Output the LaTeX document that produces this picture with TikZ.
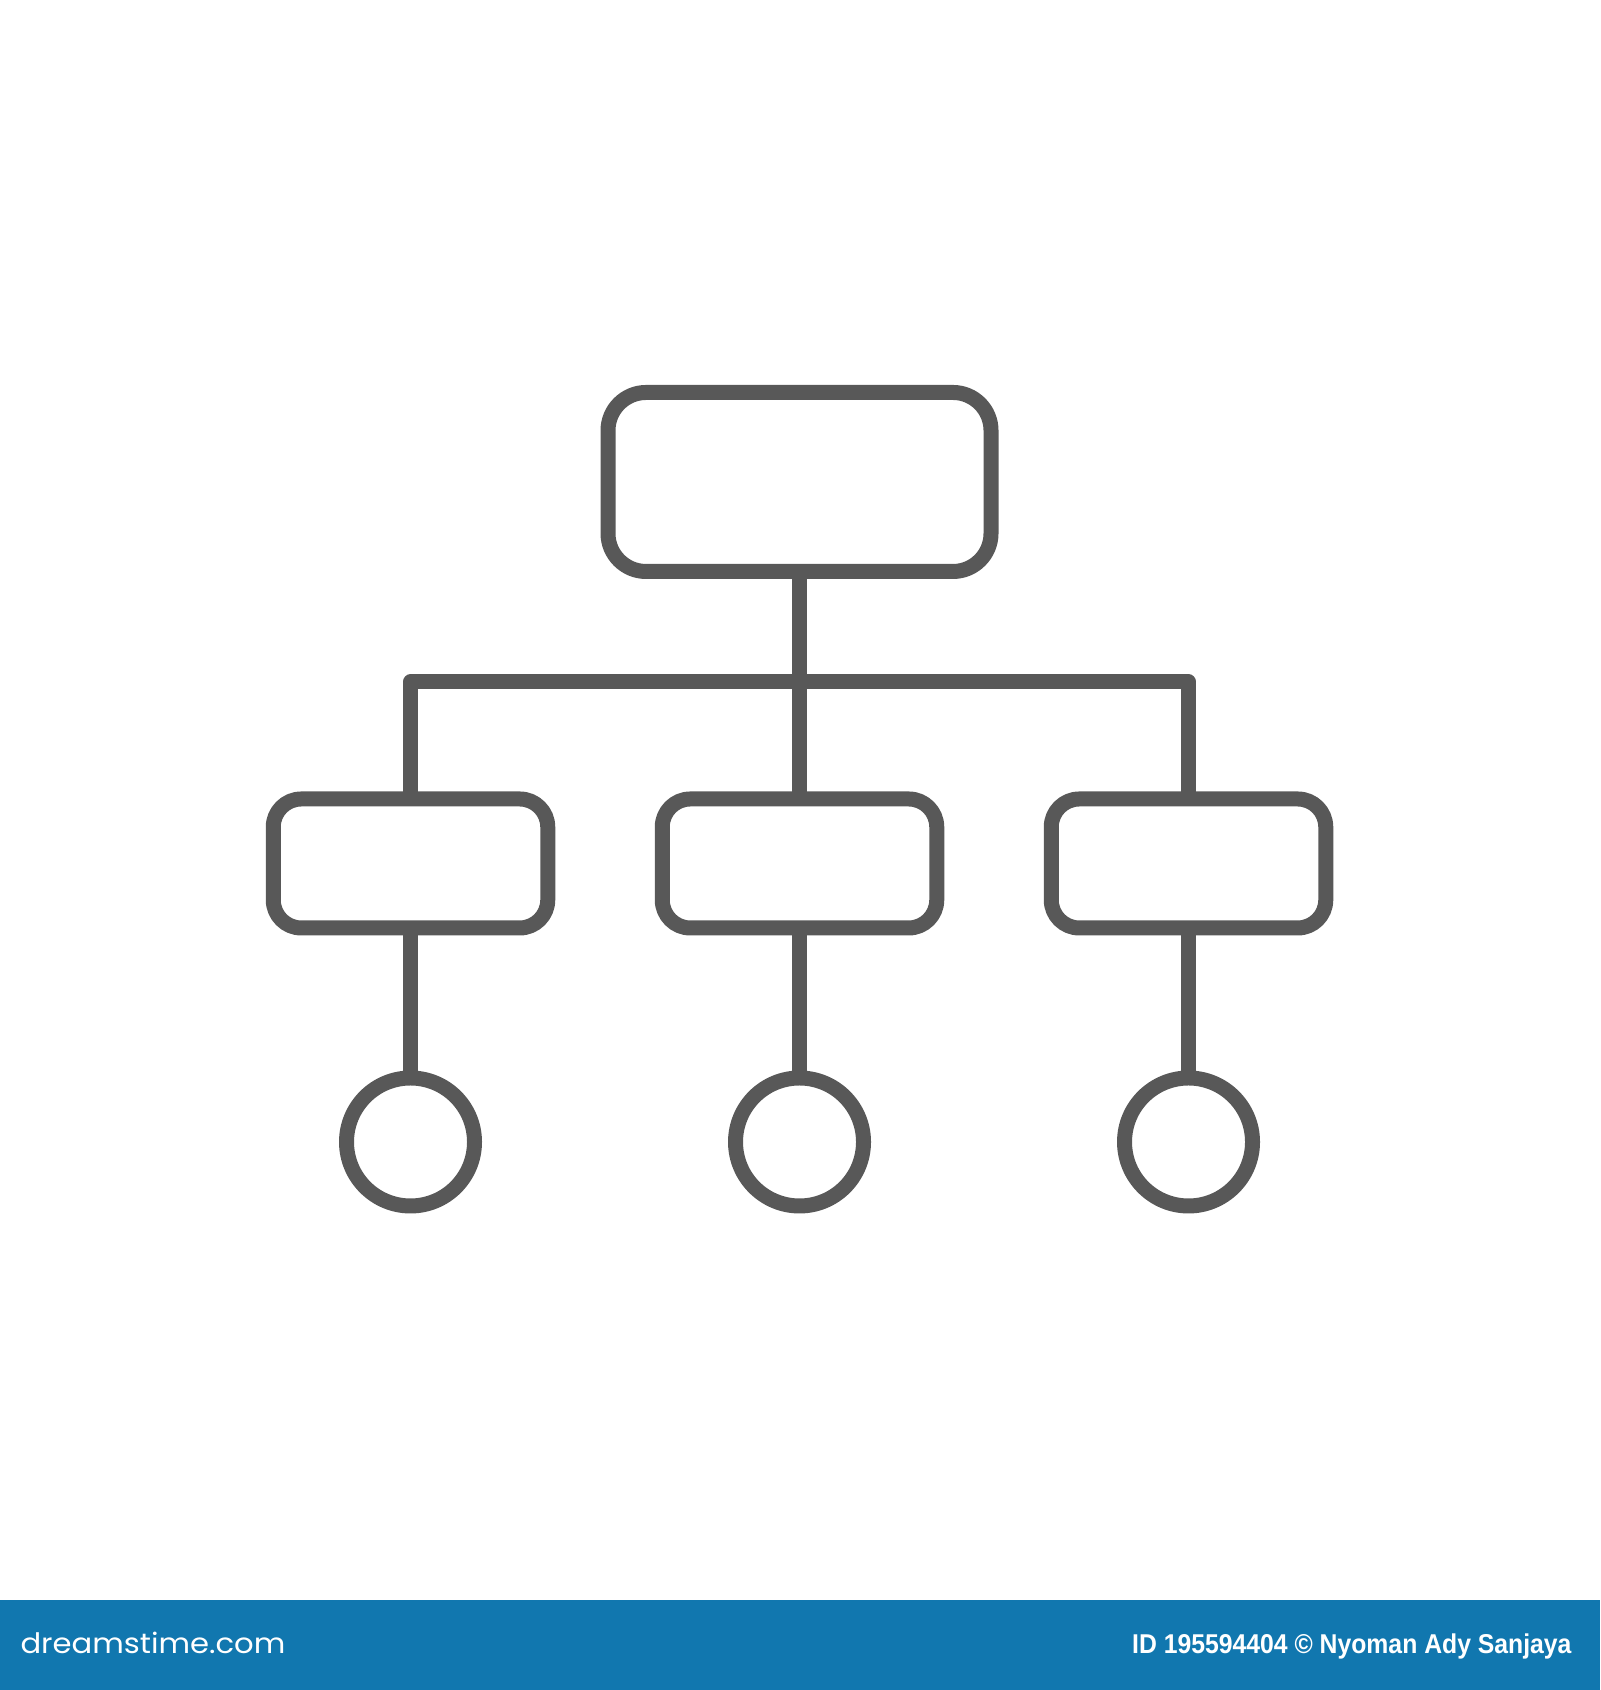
\documentclass[tikz,border=0pt]{standalone}
\usepackage{fontspec}
\usepackage{tikz}
\usetikzlibrary{positioning}
\newfontfamily\idfont[FakeStretch=0.91]{Liberation Sans}
\newfontfamily\logofont[FakeStretch=1.09]{Poppins}
\definecolor{linegray}{RGB}{88,88,88}
\definecolor{barblue}{RGB}{17,119,175}

\begin{document}
\begin{tikzpicture}[line width=0.15cm, color=linegray, line join=round,
        box/.style={draw, rectangle, rounded corners=0.28cm, minimum width=2.745cm, minimum height=1.29cm, inner sep=0pt, outer sep=0pt},
        leaf/.style={draw, circle, minimum size=1.28cm, inner sep=0pt, outer sep=0pt}]
                \useasboundingbox (0,0) rectangle (16,16.9);
                \node [box] (mid) at (7.995,8.265) {};
                \node [box, left = 1.145cm of mid] (left) {};
                \node [box, right = 1.145cm of mid] (right) {};
                \node [box, rounded corners=0.38cm, minimum width=3.83cm, minimum height=1.79cm, above = 2.275cm of mid] (top) {};
                \coordinate [below = 1.105cm of top] (fork);
                \foreach \n in {left,mid,right}
                    \node [leaf, below = 1.5cm of \n] (leaf\n) {};
                \draw (top.south) -- (mid.north);
                \draw (left.north) -- (left.north |- fork) -- (right.north |- fork) -- (right.north);
                \foreach \n in {left,mid,right}
                    \draw (\n.south) -- (leaf\n.north);
                % credit bar
                \fill [barblue] (0,0) rectangle (16,0.9);
                \node [anchor=base west, inner sep=0pt, text=white, font=\logofont\fontsize{8pt}{9pt}\selectfont] (logo) at (0.13,0.36) {dreamstime.com};
                \node [anchor=base east, inner sep=0pt, text=white, font=\idfont\bfseries\fontsize{7.74pt}{9pt}\selectfont] (credit) at (15.79,0.36) {ID 195594404 © Nyoman Ady Sanjaya};
            \end{tikzpicture}
\end{document}
